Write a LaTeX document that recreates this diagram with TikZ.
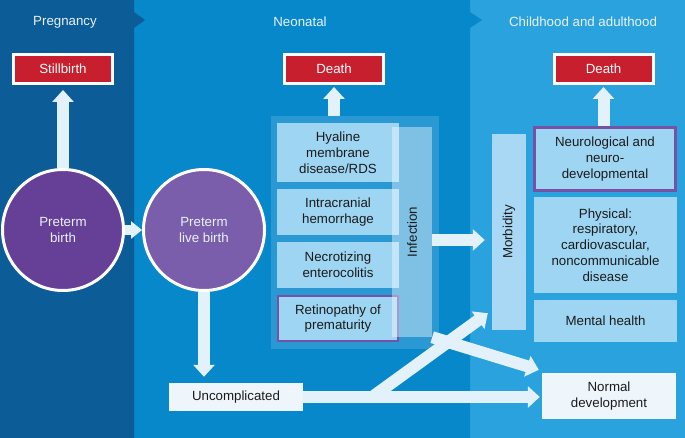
\documentclass[tikz,border=0pt]{standalone}
\usepackage{fontspec}
\setmainfont{Liberation Sans}
\usetikzlibrary{arrows.meta,positioning,calc}
\definecolor{pregblue}{HTML}{0C5C98}
\definecolor{neoblue}{HTML}{0788CB}
\definecolor{childblue}{HTML}{2AA2DD}
\definecolor{boxblue}{HTML}{9ED5F3}
\definecolor{morbblue}{HTML}{A8D8F3}
\definecolor{arrowwhite}{HTML}{E3F1FB}
\definecolor{palebox}{HTML}{EEF6FC}
\definecolor{deathred}{HTML}{C81F2E}
\definecolor{darkpurple}{HTML}{663F97}
\definecolor{livepurple}{HTML}{7A5DAB}
\definecolor{framepurple}{HTML}{7552A6}
\definecolor{inktext}{HTML}{1B1B1B}
\definecolor{titletext}{HTML}{E9F2F9}

\begin{document}
\begin{tikzpicture}[x=1pt,y=-1pt,
    every node/.style={font=\fontsize{13.3}{15.8}\selectfont,inner sep=0pt,align=center},
    redbox/.style={fill=deathred,draw=white,line width=3pt,text=white,
      minimum width=99pt,minimum height=29pt},
    bluebox/.style={fill=boxblue,text=inktext},
    palebox/.style={fill=palebox,text=inktext},
    stagecircle/.style={circle,draw=white,line width=3pt,text=titletext,minimum size=121pt},
    fat/.style={draw=arrowwhite,line width=12pt,-{Triangle[width=21pt,length=12pt]}}]
    \useasboundingbox (0,0) rectangle (685,438);
    \fill[childblue] (470,0) rectangle (685,438);
    \fill[neoblue] (134,0) -- (470,0) -- (470,12) -- (482,20) -- (470,28)
      -- (470,438) -- (134,438) -- cycle;
    \fill[pregblue] (0,0) -- (134,0) -- (134,12) -- (145,20) -- (134,28)
      -- (134,438) -- (0,438) -- cycle;
    \node[text=titletext] (tpreg) at (65,22) {Pregnancy};
    \node[text=titletext] (tneo) at (300,22) {Neonatal};
    \node[text=titletext] (tchild) at (583,22) {Childhood and adulthood};

    \node[redbox] (stillbirth) at (63,69) {Stillbirth};
    \node[redbox] (neodeath) at (334,69) {Death};
    \node[redbox] (latedeath) at (603.5,69) {Death};

    \node[stagecircle,fill=darkpurple] (pbirth) at (63,230) {Preterm\\birth};
    \node[stagecircle,fill=livepurple] (lbirth) at (204,230) {Preterm\\live birth};

    \node[fill=white,fill opacity=.14,minimum width=168pt,minimum height=233pt]
      (neogroup) at (355,232.5) {};
    \node[bluebox,minimum width=122pt,minimum height=59pt] (hmd) at (338,152.5)
      {Hyaline\\membrane\\disease/RDS};
    \node[bluebox,minimum width=122pt,minimum height=46pt] (ich) at (338,212)
      {Intracranial\\hemorrhage};
    \node[bluebox,minimum width=122pt,minimum height=46pt] (nec) at (338,265)
      {Necrotizing\\enterocolitis};
    \node[bluebox,draw=framepurple,line width=2pt,minimum width=120pt,minimum height=45pt]
      (rop) at (338,318.5) {Retinopathy of\\prematurity};
    \node[fill=white,fill opacity=.4,text opacity=1,text=inktext,rotate=90,
      minimum width=210pt,minimum height=40pt] (infection) at (412,232) {Infection};

    \node[fill=morbblue,text=inktext,rotate=90,minimum width=196pt,minimum height=34pt]
      (morbidity) at (509,232) {Morbidity};
    \node[bluebox,draw=framepurple,line width=3pt,minimum width=141pt,minimum height=63pt]
      (neuro) at (605,159) {Neurological and\\neuro-\\developmental};
    \node[bluebox,minimum width=143pt,minimum height=96pt] (physical) at (605.5,245)
      {Physical:\\respiratory,\\cardiovascular,\\noncommunicable\\disease};
    \node[bluebox,minimum width=143pt,minimum height=42pt] (mental) at (605.5,321)
      {Mental health};

    \node[palebox,minimum width=134pt,minimum height=28pt] (uncompl) at (236,397)
      {Uncomplicated};
    \node[palebox,minimum width=134pt,minimum height=46pt] (normal) at (609,396)
      {Normal\\development};

    \draw[fat,shorten >=5pt] (pbirth) -- (stillbirth);
    \draw[draw=arrowwhite,line width=10pt,-{Triangle[width=17pt,length=11pt]}]
      (pbirth) -- (lbirth);
    \draw[fat,shorten >=6pt] (lbirth.south) -- (lbirth.south |- uncompl.north);
    \draw[fat,shorten >=2pt] (neodeath.south |- neogroup.north) -- (neodeath);
    \draw[fat,shorten >=7pt] ([yshift=-8pt]infection.south) -- ([yshift=-8pt]morbidity.north);
    \draw[fat,shorten >=2pt] (latedeath.south |- neuro.north) -- (latedeath);
    \coordinate (fork) at ($(uncompl.east)+(69,0)$);
    \draw[fat] (infection.south west) -- ($(normal.north west)+(-3,-3)$);
    \draw[fat] (fork) -- ($(morbidity.north west)+(-4,-17)$);
    \draw[fat,shorten >=2pt] (uncompl.east) -- (normal.west |- uncompl.east);
\end{tikzpicture}
\end{document}
